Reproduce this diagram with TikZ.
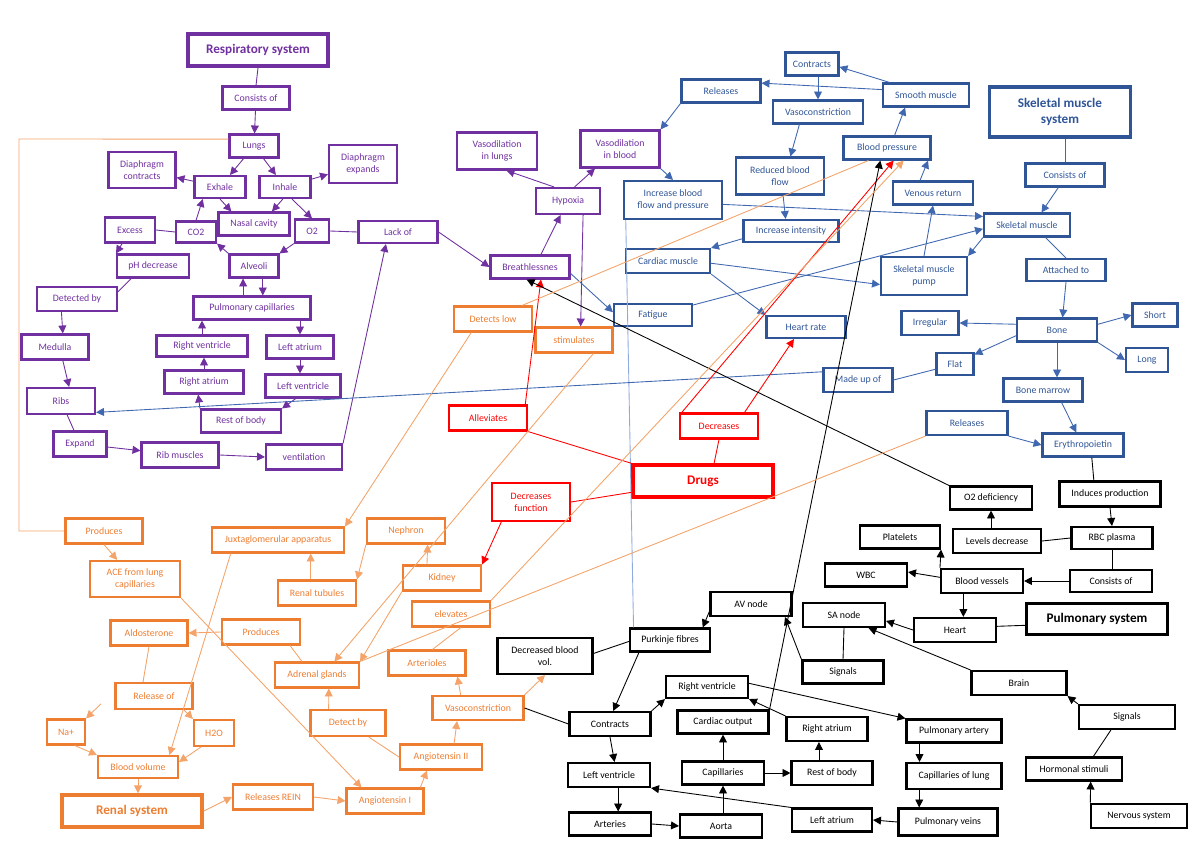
\documentclass[tikz,border=0pt]{standalone}
\usepackage{fontspec}
\setmainfont{Carlito}
\usetikzlibrary{arrows.meta}
\definecolor{purp}{HTML}{7030A0}
\definecolor{blu}{HTML}{2F5597}
\definecolor{bline}{HTML}{4068B0}
\definecolor{lblu}{HTML}{8FAADC}
\definecolor{orng}{HTML}{ED7D31}
\definecolor{oline}{HTML}{F4A46A}
\definecolor{rd}{HTML}{FF0000}
\tikzstyle{box} = [rectangle, draw, line width=1.2pt, minimum width=1.58cm, minimum height=0.46cm, inner sep=1pt, text centered, align=center, font=\fontsize{5.6}{6.8}\selectfont]
\tikzstyle{title} = [line width=2pt, font=\fontsize{7.5}{9}\selectfont\bfseries]
\tikzstyle{resp} = [box, draw=purp, text=purp]
\tikzstyle{skel} = [box, draw=blu, text=blu]
\tikzstyle{renal} = [box, draw=orng, text=orng]
\tikzstyle{drug} = [box, draw=rd, text=rd]
\tikzstyle{pulm} = [box, draw=black, text=black]
\tikzstyle{arrow} = [-{Triangle[length=4.5pt,width=4.5pt]}]
\tikzset{sz/.style 2 args={minimum width=#1*0.02cm, minimum height=#2*0.02cm}}
\begin{document}
\begin{tikzpicture}[x=0.02cm, y=-0.02cm, line width=0.5pt]
\useasboundingbox (0,0) rectangle (1200,848);

\node (respsys) [resp, title, sz={140}{32}] at (258,50) {Respiratory system};
\node (rcons) [resp, sz={67}{23}] at (256,98) {Consists of};
\node (lungs) [resp, sz={49}{23}] at (254,146) {Lungs};
\node (dcon) [resp, sz={67}{36}] at (142,170) {Diaphragm\\contracts};
\node (exhale) [resp, sz={51}{22}] at (220,187) {Exhale};
\node (inhale) [resp, sz={51}{22}] at (285,187) {Inhale};
\node (dexp) [resp, sz={68}{38}] at (363,164) {Diaphragm\\expands};
\node (nasal) [resp, sz={71}{23}] at (254,224) {Nasal cavity};
\node (co2) [resp, sz={40}{21}] at (196,232) {CO2};
\node (o2) [resp, sz={34}{23}] at (312,231) {O2};
\node (excess) [resp, sz={50}{25}] at (130,230) {Excess};
\node (lack) [resp, sz={79}{22}] at (398,232) {Lack of};
\node (ph) [resp, sz={72}{23}] at (153,266) {pH decrease};
\node (alveoli) [resp, sz={49}{23}] at (254,266) {Alveoli};
\node (detected) [resp, sz={80}{24}] at (77,299) {Detected by};
\node (pcap) [resp, sz={117}{23}] at (252,308) {Pulmonary capillaries};
\node (medulla) [resp, sz={67}{25}] at (55,347) {Medulla};
\node (prv) [resp, sz={91}{21}] at (202,346) {Right ventricle};
\node (pla) [resp, sz={67}{23}] at (300,347) {Left atrium};
\node (pra) [resp, sz={79}{23}] at (204,382) {Right atrium};
\node (plv) [resp, sz={75}{23}] at (303,386) {Left ventricle};
\node (ribs) [resp, sz={68}{26}] at (61,401) {Ribs};
\node (prest) [resp, sz={80}{23}] at (241,421) {Rest of body};
\node (expand) [resp, sz={53}{25}] at (80,444) {Expand};
\node (ribm) [resp, sz={77}{25}] at (180,455) {Rib muscles};
\node (vent) [resp, sz={76}{25}] at (304,457) {ventilation};
\node (vlungs) [resp, sz={80}{37}] at (497,151) {Vasodilation\\in lungs};
\node (vblood) [resp, sz={79}{37}] at (620,149) {Vasodilation\\in blood};
\node (hypoxia) [resp, sz={64}{26}] at (568,201) {Hypoxia};
\node (breath) [resp, sz={79}{23}] at (530,267) {Breathlessnes};

\node (brel) [skel, sz={79}{23}] at (721,91) {Releases};
\node (bcon) [skel, sz={53}{23}] at (812,64) {Contracts};
\node (bvaso) [skel, sz={90}{23}] at (818,112) {Vasoconstriction};
\node (reduced) [skel, sz={88}{37}] at (780,176) {Reduced blood\\flow};
\node (incflow) [skel, sz={98}{38}] at (673,200) {Increase blood\\flow and pressure};
\node (incint) [skel, sz={95}{22}] at (791,231) {Increase intensity};
\node (cardiac) [skel, sz={84}{24}] at (668,261) {Cardiac muscle};
\node (fatigue) [skel, sz={78}{22}] at (653,315) {Fatigue};
\node (hrate) [skel, sz={79}{22}] at (806,327) {Heart rate};
\node (bp) [skel, sz={87}{23}] at (887,148) {Blood pressure};
\node (smooth) [skel, sz={86}{23}] at (926,95) {Smooth muscle};
\node (skelsys) [skel, title, sz={141}{50}] at (1060,112) {Skeletal muscle\\system};
\node (scons) [skel, sz={79}{23}] at (1065,175) {Consists of};
\node (venous) [skel, sz={80}{23}] at (933,193) {Venous return};
\node (smus) [skel, sz={86}{23}] at (1027,225) {Skeletal muscle};
\node (pump) [skel, sz={86}{38}] at (924,276) {Skeletal muscle\\pump};
\node (attached) [skel, sz={79}{22}] at (1066,270) {Attached to};
\node (irregular) [skel, sz={57}{24}] at (930,323) {Irregular};
\node (short) [skel, sz={45}{23}] at (1155,315) {Short};
\node (bone) [skel, sz={80}{23}] at (1057,330) {Bone};
\node (flat) [skel, sz={37}{22}] at (955,364) {Flat};
\node (madeup) [skel, sz={69}{24}] at (858,380) {Made up of};
\node (long) [skel, sz={42}{24}] at (1147,360) {Long};
\node (marrow) [skel, sz={79}{23}] at (1043,390) {Bone marrow};
\node (brel2) [skel, sz={81}{24}] at (967,423) {Releases};
\node (erythro) [skel, sz={81}{23}] at (1083,445) {Erythropoietin};

\node (o2def) [pulm, sz={82}{23}] at (991,498) {O2 deficiency};
\node (induces) [pulm, sz={101}{25}] at (1110,494) {Induces production};
\node (platelets) [pulm, sz={80}{23}] at (900,537) {Platelets};
\node (levels) [pulm, sz={88}{24}] at (997,541) {Levels decrease};
\node (rbc) [pulm, sz={81}{22}] at (1112,538) {RBC plasma};
\node (wbc) [pulm, sz={82}{23}] at (866,575) {WBC};
\node (vessels) [pulm, sz={82}{24}] at (982,581) {Blood vessels};
\node (kcons) [pulm, sz={82}{22}] at (1111,581) {Consists of};
\node (heart) [pulm, sz={82}{24}] at (955,630) {Heart};
\node (pulsys) [pulm, title, sz={141}{31}] at (1097,619) {Pulmonary system};
\node (brain) [pulm, sz={95}{24}] at (1019,683) {Brain};
\node (sigb) [pulm, sz={96}{24}] at (1127,717) {Signals};
\node (partery) [pulm, sz={95}{23}] at (954,731) {Pulmonary artery};
\node (hormonal) [pulm, sz={96}{23}] at (1074,769) {Hormonal stimuli};
\node (caplung) [pulm, sz={95}{26}] at (954,776) {Capillaries of lung};
\node (pveins) [pulm, sz={99}{27}] at (948,822) {Pulmonary veins};
\node (nervous) [pulm, sz={96}{24}] at (1139,816) {Nervous system};
\node (avnode) [pulm, sz={81}{24}] at (751,604) {AV node};
\node (sanode) [pulm, sz={82}{24}] at (844,615) {SA node};
\node (purkinje) [pulm, sz={80}{23}] at (670,640) {Purkinje fibres};
\node (decvol) [pulm, sz={95}{36}] at (545,656) {Decreased blood\\vol.};
\node (siga) [pulm, sz={81}{23}] at (843,672) {Signals};
\node (krv) [pulm, sz={82}{22}] at (707,687) {Right ventricle};
\node (kcon) [pulm, sz={81}{24}] at (610,724) {Contracts};
\node (output) [pulm, sz={91}{23}] at (723,722) {Cardiac output};
\node (kra) [pulm, sz={81}{24}] at (827,729) {Right atrium};
\node (klv) [pulm, sz={82}{24}] at (609,775) {Left ventricle};
\node (caps) [pulm, sz={82}{23}] at (723,773) {Capillaries};
\node (krest) [pulm, sz={81}{24}] at (832,773) {Rest of body};
\node (arteries) [pulm, sz={82}{23}] at (610,824) {Arteries};
\node (aorta) [pulm, sz={82}{23}] at (721,826) {Aorta};
\node (kla) [pulm, sz={80}{23}] at (832,820) {Left atrium};

\node (oprod) [renal, sz={77}{25}] at (104,531) {Produces};
\node (juxta) [renal, sz={132}{25}] at (278,540) {Juxtaglomerular apparatus};
\node (nephron) [renal, sz={78}{25}] at (406,531) {Nephron};
\node (ace) [renal, sz={90}{36}] at (135,579) {ACE from lung\\capillaries};
\node (kidney) [renal, sz={78}{25}] at (442,578) {Kidney};
\node (tubules) [renal, sz={78}{25}] at (317,593) {Renal tubules};
\node (elevates) [renal, sz={78}{25}] at (451,614) {elevates};
\node (aldo) [renal, sz={77}{25}] at (149,633) {Aldosterone};
\node (oprod2) [renal, sz={78}{25}] at (261,632) {Produces};
\node (adrenal) [renal, sz={84}{25}] at (317,675) {Adrenal glands};
\node (arterioles) [renal, sz={77}{25}] at (427,663) {Arterioles};
\node (release) [renal, sz={77}{26}] at (154,696) {Release of};
\node (ovaso) [renal, sz={91}{24}] at (478,708) {Vasoconstriction};
\node (detect) [renal, sz={75}{26}] at (348,723) {Detect by};
\node (na) [renal, sz={38}{25}] at (66,732) {Na+};
\node (h2o) [renal, sz={40}{26}] at (214,733) {H2O};
\node (ang2) [renal, sz={82}{25}] at (441,757) {Angiotensin II};
\node (bvol) [renal, sz={80}{22}] at (138,767) {Blood volume};
\node (rein) [renal, sz={80}{25}] at (273,797) {Releases REIN};
\node (ang1) [renal, sz={77}{25}] at (385,801) {Angiotensin I};
\node (renalsys) [renal, title, sz={140}{32}] at (132,811) {Renal system};
\node (detects) [renal, sz={78}{25}] at (493,319) {Detects low};
\node (stim) [renal, sz={77}{25}] at (574,340) {stimulates};

\node (alleviates) [drug, sz={78}{25}] at (488,418) {Alleviates};
\node (decreases) [drug, sz={78}{25}] at (719,426) {Decreases};
\node (drugs) [drug, title, sz={140}{32}] at (703,481) {Drugs};
\node (decfun) [drug, sz={78}{38}] at (531,502) {Decreases\\function};

\draw [purp] (respsys.south) -- (rcons.north);
\draw [arrow, purp] (rcons) -- (lungs);
\draw [arrow, purp] (lungs) -- (exhale);
\draw [arrow, purp] (lungs) -- (inhale);
\draw [arrow, purp] (exhale) -- (dcon);
\draw [arrow, purp] (inhale) -- (dexp);
\draw [arrow, purp] (exhale.south) -- (nasal.151);
\draw [arrow, purp] (inhale.-100) -- (nasal.35);
\draw [arrow, purp] (co2.north) -- (exhale.-145);
\draw [arrow, purp] (inhale.-60) -- (o2.north);
\draw [purp] (excess.east) -- (co2.west);
\draw [arrow, purp] (excess.-120) -- (ph.north west);
\draw [arrow, purp] (alveoli.north west) -- (co2.south east);
\draw [arrow, purp] (o2.south west) -- (alveoli.north east);
\draw [purp] (o2.east) -- (lack.west);
\draw [arrow, purp] (lack.east) -- (breath.west);
\draw [purp] (ph.-150) -- (detected.10);
\draw [arrow, purp] (detected.-140) -- (medulla.60);
\draw [arrow, purp] (medulla.-60) -- (ribs.60);
\draw [purp] (ribs) -- (expand);
\draw [arrow, purp] (expand) -- (ribm);
\draw [arrow, purp] (ribm.east) -- (vent.west);
\draw [arrow, purp] (vent.north east) -- (lack.-135);
\draw [arrow, purp] (pcap.north -| alveoli.-131) -- (alveoli.-131);
\draw [arrow, purp] (alveoli.-55) -- (alveoli.-55 |- pcap.north);
\draw [arrow, purp] (prv.north) -- (prv.north |- pcap.south);
\draw [arrow, purp] (pla.north |- pcap.south) -- (pla.north);
\draw [arrow, purp] (pra.north) -- (pra.north |- prv.south);
\draw [arrow, purp] (pla.south) -- (pla.south |- plv.north);
\draw [arrow, purp] (plv.-120) -- (prest.north east);
\draw [arrow, purp] (prest.north west) -- (pra.-115);
\draw [arrow, purp] (breath.49) -- (hypoxia.-118);
\draw [arrow, purp] (hypoxia.135) -- (vlungs.-64);
\draw [arrow, purp] (hypoxia.65) -- (vblood.-142);
\draw [arrow, purp] (hypoxia.-43) -- (stim.64);
\draw [oline] (lungs.165) -- (19,139) |- (oprod.west);

\draw [arrow, bline] (bp.59) -- (smooth.-149);
\draw [arrow, bline] (smooth.161) -- (bcon.-6);
\draw [arrow, bline] (smooth.173) -- (brel.11);
\draw [arrow, bline] (bcon.south -| bvaso.north) -- (bvaso.north);
\draw [arrow, bline] (bvaso.-146) -- (reduced.62);
\draw [arrow, bline] (reduced.-81) -- (incint.114);
\draw [arrow, bline] (incint.-171) -- (cardiac.north east);
\draw [arrow, bline] (brel.south west) -- (vblood.north east);
\draw [arrow, bline] (vblood.south east) -- (incflow.north);
\draw [arrow, bline] (incflow.-5) -- (smus.169);
\draw [lblu] (incflow.-157) -- (purkinje.161);
\draw [arrow, bline] (breath.-9) -- (fatigue.176);
\draw [arrow, bline] (fatigue.14) -- (smus.-175);
\draw [arrow, bline] (cardiac.-3) -- (pump.-169);
\draw [arrow, bline] (cardiac.south east) -- (hrate.north west);
\draw [arrow, bline] (smus.south west) -- (pump.north east);
\draw [arrow, bline] (pump.north) -- (venous.south);
\draw [arrow, bline] (venous.136) -- (bp.-17);
\draw [bline] (skelsys.south -| scons.north) -- (scons.north);
\draw [arrow, bline] (scons.-118) -- (smus.41);
\draw [bline] (smus.-34) -- (attached.north);
\draw [arrow, bline] (attached.south) -- (bone.66);
\draw [arrow, bline] (bone.172) -- (irregular.east);
\draw [arrow, bline] (bone.8) -- (short.west);
\draw [arrow, bline] (bone.-172) -- (flat.26);
\draw [arrow, bline] (bone.south east) -- (long.west);
\draw [arrow, bline] (bone.south) -- (bone.south |- marrow.north);
\draw [bline] (flat.-165) -- (madeup.east);
\draw [arrow, bline] (madeup.167) -- (ribs.-18);
\draw [arrow, bline] (marrow.-34) -- (erythro.118);
\draw [arrow, bline] (brel2.south east) -- (erythro.west);
\draw (erythro.-55) -- (induces.140);

\draw [arrow, rd] (alleviates.20) -- (breath.-49);
\draw [rd] (drugs.north west) -- (alleviates.south east);
\draw [rd] (drugs.58) -- (decreases.south);
\draw [arrow, rd] (decreases.160) -- (bp.-62);
\draw [arrow, rd] (decreases.28) -- (hrate.-135);
\draw [rd] (drugs.-171) -- (decfun.east);
\draw [arrow, rd] (decfun.-146) -- (kidney.north east);

\draw [arrow] (o2def.north west) -- (breath.-105);
\draw [arrow] (output.north east) -- (bp.-118);
\draw [arrow] (siga.north west) -- (avnode.-21);
\draw (sanode.south) -- (siga.north);
\draw [arrow] (heart.west) -- (sanode.-8);
\draw [arrow] (brain.north west) -- (sanode.-28);
\draw [arrow] (sigb.north west) -- (brain.south east);
\draw (hormonal.33) -- (sigb.-141);
\draw [arrow] (nervous.165) -- (hormonal.-37);
\draw (pulsys.-175) -- (heart.5);
\draw [arrow] (vessels.-145) -- (vessels.-145 |- heart.north);
\draw [arrow] (vessels.north west) -- (platelets.south east);
\draw [arrow] (vessels.175) -- (wbc.4);
\draw [arrow] (kcons.west) -- (vessels.east);
\draw (rbc.south) -- (rbc.south |- kcons.north);
\draw (levels.east) -- (rbc.west);
\draw [arrow] (levels.north -| o2def.south) -- (o2def.south);
\draw [arrow] (induces.south) -- (rbc.north);
\draw [arrow] (avnode.-170) -- (purkinje.21);
\draw (purkinje.-178) -- (decvol.3);
\draw [arrow] (purkinje.-158) -- (kcon.76);
\draw [arrow] (kcon.north east) -- (krv.south west);
\draw [arrow] (kcon.south) -- (klv.67);
\draw (ovaso.east) -- (kcon.west);
\draw [arrow] (krv.5) -- (partery.north west);
\draw [arrow] (kra.north west) -- (krv.south east);
\draw [arrow] (caps.north) -- (output.south);
\draw [arrow] (caps.east) -- (krest.west);
\draw [arrow] (krest.135) -- (krest.135 |- kra.south);
\draw [arrow] (aorta.north -| caps.south) -- (caps.south);
\draw [arrow] (klv.-55) -- (klv.-55 |- arteries.north);
\draw [arrow] (arteries.east) -- (aorta.west);
\draw [arrow] (kla.north west) -- (klv.south east);
\draw [arrow] (partery.-160) -- (partery.-160 |- caplung.north);
\draw [arrow] (caplung.-158) -- (caplung.-158 |- pveins.north);
\draw [arrow] (pveins.west) -- (kla.east);

\draw [arrow, oline] (oprod.south) -- (ace.133);
\draw [arrow, oline] (ace.south east) -- (ang1.150);
\draw [arrow, oline] (juxta.-164) -- (bvol.21);
\draw [arrow, oline] (tubules.115) -- (tubules.115 |- juxta.south);
\draw [arrow, oline] (nephron.south west) -- (tubules.north east);
\draw [arrow, oline] (kidney.138) -- (nephron.-32);
\draw [arrow, oline] (kidney.south west) -- (adrenal.north east);
\draw [arrow, oline] (stim.-35) -- (adrenal.38);
\draw [oline] (brel2.south west) -- (adrenal.north east);
\draw [arrow, oline] (detects.-148) -- (juxta.north east);
\draw [oline] (detects.25) -- (bp.-146);
\draw [arrow, oline] (elevates.north east) -- (bp.-37);
\draw [oline] (arterioles.68) -- (elevates.-54);
\draw [arrow, oline] (oprod2.west) -- (aldo.east);
\draw [oline] (oprod2.-25) -- (adrenal.138);
\draw [oline] (aldo.south) -- (release.128);
\draw [arrow, oline] (release.-25) -- (h2o.north west);
\draw [arrow, oline, shorten <=0.38cm] (release.172) -- (na.north east);
\draw [arrow, oline] (na.-57) -- (bvol.north west);
\draw [arrow, oline] (h2o.-133) -- (bvol.7);
\draw [arrow, oline] (bvol.south) -- (bvol.south |- renalsys.north);
\draw [arrow, oline] (renalsys.east) -- (rein.west);
\draw [arrow, oline] (rein.east) -- (ang1.west);
\draw [arrow, oline] (ang1.21) -- (ang2.-136);
\draw [arrow, oline] (ang2.46) -- (ovaso.-148);
\draw [arrow, oline] (ovaso.143) -- (arterioles.-24);
\draw [arrow, oline] (ovaso.north east) -- (decvol.south);
\draw [arrow, oline] (detect.144) -- (adrenal.-49);
\draw [oline] (ang2.west) -- (detect.-34);

\end{tikzpicture}
\end{document}
